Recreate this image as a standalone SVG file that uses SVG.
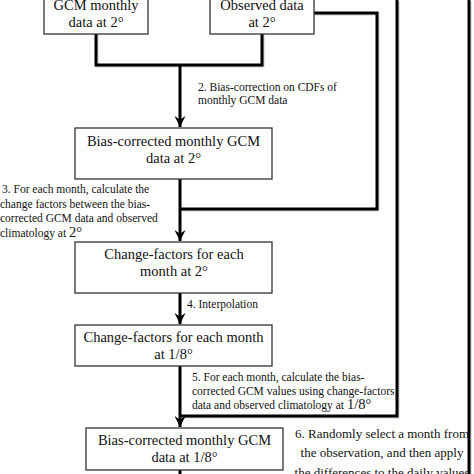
<svg xmlns="http://www.w3.org/2000/svg" width="474" height="474" viewBox="0 0 474 474">
<style>
.box{fill:#fff;stroke:#333;stroke-width:1.3}
.bt{font-family:"Liberation Serif","Times New Roman",serif;font-size:14.5px;fill:#111;text-anchor:middle}
.st{font-family:"Liberation Serif","Times New Roman",serif;font-size:11.5px;fill:#111}
.big{font-size:14.5px}
.ln{fill:none;stroke:#000;stroke-width:3}
.sh{fill:none;stroke:#999;stroke-width:3;opacity:0.5}
</style>
<defs>
<marker id="ah" viewBox="0 0 10 10" refX="10" refY="5" markerWidth="11" markerHeight="11" markerUnits="userSpaceOnUse" orient="auto">
<path d="M0,0 L10,5 L0,10 L3.5,5 z" fill="#000"/>
</marker>
</defs>
<rect width="474" height="474" fill="#fff"/>
<g id="connectors">
<g transform="translate(1,1)">
<path class="sh" d="M96,34 V65 H262 V34"/>
<path class="sh" d="M314,13 H377 V209 H180"/>
<path class="sh" d="M397,0 V416 H180"/>
<path class="sh" d="M469,0 V474"/>
</g>
<path class="ln" d="M96,34 V65 H262 V34"/>
<path class="ln" d="M180,65 V127" marker-end="url(#ah)"/>
<path class="ln" d="M314,13 H377 V209 H180"/>
<path class="ln" d="M180,179 V241" marker-end="url(#ah)"/>
<path class="ln" d="M180,293 V324" marker-end="url(#ah)"/>
<path class="ln" d="M397,0 V416 H180"/>
<path class="ln" d="M180,366 V427" marker-end="url(#ah)"/>
<path class="ln" d="M180,470 V474"/>
<path class="ln" d="M469,0 V474"/>
<text class="st" x="198" y="91">2. Bias-correction on CDFs of</text>
<text class="st" x="198" y="104">monthly GCM data</text>
<text class="st" x="2" y="193">3. For each month, calculate the</text>
<text class="st" x="0" y="208">change factors between the bias-</text>
<text class="st" x="0" y="222">corrected GCM data and observed</text>
<text class="st" x="0" y="237">climatology at <tspan class="big">2°</tspan></text>
<text class="st" x="187" y="308">4. Interpolation</text>
<text class="st" x="192" y="381">5. For each month, calculate the bias-</text>
<text class="st" x="192" y="395">corrected GCM values using change-factors</text>
<text class="st" x="192" y="409">data and observed climatology at <tspan class="big">1/8°</tspan></text>
</g>
<g id="gcm">
<rect class="box" x="44" y="-10" width="104" height="44"/>
<text class="bt" x="96" y="10">GCM monthly</text>
<text class="bt" x="96" y="27">data at 2°</text>
</g>
<g id="obs">
<rect class="box" x="210" y="-10" width="104" height="44"/>
<text class="bt" x="262" y="10">Observed data</text>
<text class="bt" x="262" y="27">at 2°</text>
</g>
<g id="bc2">
<rect class="box" x="75" y="128" width="197" height="51"/>
<text class="bt" x="173.5" y="146">Bias-corrected monthly GCM</text>
<text class="bt" x="173.5" y="163">data at 2°</text>
</g>
<g id="cf2">
<rect class="box" x="75" y="242" width="197" height="51"/>
<text class="bt" x="174" y="259">Change-factors for each</text>
<text class="bt" x="174" y="276">month at 2°</text>
</g>
<g id="cf8">
<rect class="box" x="75" y="325" width="197" height="41"/>
<text class="bt" x="173.5" y="342">Change-factors for each month</text>
<text class="bt" x="173.5" y="359">at 1/8°</text>
</g>
<g id="bc8">
<rect class="box" x="86" y="428" width="197" height="42"/>
<text class="bt" x="184.5" y="445">Bias-corrected monthly GCM</text>
<text class="bt" x="184.5" y="462">data at 1/8°</text>
</g>
<g id="step6">
<text class="bt" x="382" y="438" font-size="13" style="font-size:13px">6. Randomly select a month from</text>
<text class="bt" x="382" y="457" style="font-size:13px">the observation, and then apply</text>
<text class="bt" x="382" y="477" style="font-size:13px">the differences to the daily values</text>
</g>
</svg>
